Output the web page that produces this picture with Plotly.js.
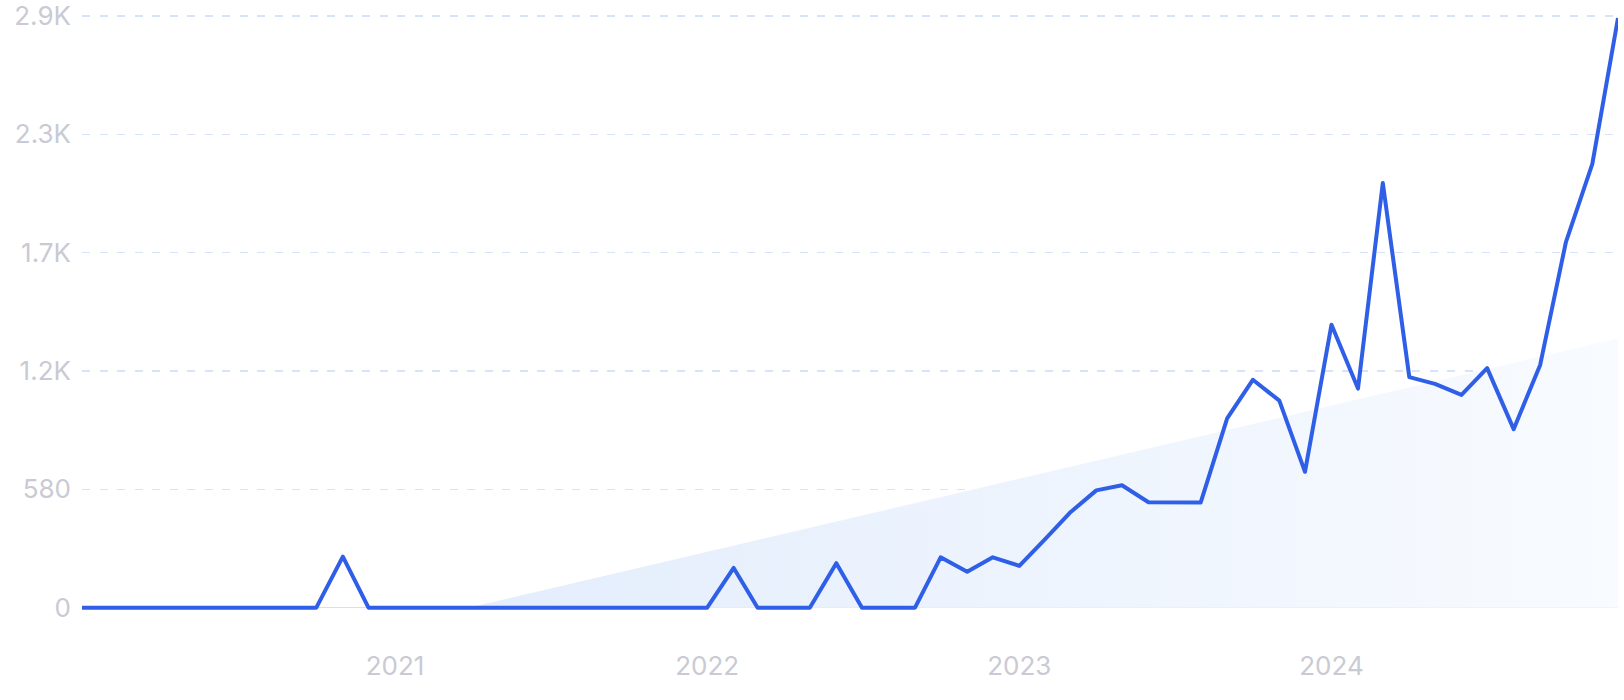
<!DOCTYPE html>
<html>
<head>
<meta charset="utf-8">
<script src="https://cdn.plot.ly/plotly-3.0.1.min.js"></script>
<style>
  html, body { margin: 0; padding: 0; background: #ffffff; }
  #chart { width: 1624px; height: 700px; }
  #chart .scatterlayer path.js-line { stroke-linejoin: round; }
</style>
</head>
<body>
<div id="chart"></div>
<script>
// Monthly dates, Jan 2020 .. Dec 2024
const months = [
  '2020-01-01','2020-02-01','2020-03-01','2020-04-01','2020-05-01','2020-06-01',
  '2020-07-01','2020-08-01','2020-09-01','2020-10-01','2020-11-01','2020-12-01',
  '2021-01-01','2021-02-01','2021-03-01','2021-04-01','2021-05-01','2021-06-01',
  '2021-07-01','2021-08-01','2021-09-01','2021-10-01','2021-11-01','2021-12-01',
  '2022-01-01','2022-02-01','2022-03-01','2022-04-01','2022-05-01','2022-06-01',
  '2022-07-01','2022-08-01','2022-09-01','2022-10-01','2022-11-01','2022-12-01',
  '2023-01-01','2023-02-01','2023-03-01','2023-04-01','2023-05-01','2023-06-01',
  '2023-07-01','2023-08-01','2023-09-01','2023-10-01','2023-11-01','2023-12-01',
  '2024-01-01','2024-02-01','2024-03-01','2024-04-01','2024-05-01','2024-06-01',
  '2024-07-01','2024-08-01','2024-09-01','2024-10-01','2024-11-01','2024-12-01'
];
const searches = [
  0, 0, 0, 0, 0, 0, 0, 0, 0, 0, 250, 0,
  0, 0, 0, 0, 0, 0, 0, 0, 0, 0, 0, 0,
  0, 195, 0, 0, 0, 218, 0, 0, 0, 247, 176, 247,
  205, 340, 465, 575, 600, 517, 517, 515, 928, 1117, 1015, 666,
  1387, 1074, 2081, 1130, 1097, 1043, 1174, 875, 1190, 1790, 2175, 2890
];
// Trend line end points
const trendX = ['2021-03-28', '2024-12-01'];
const trendY = [0, 1320];

const yTickVals = [0, 580, 1160, 1740, 2320, 2900];
const yTickText = ['0', '580', '1.2K', '1.7K', '2.3K', '2.9K'];
const xTickVals = ['2021-01-01', '2022-01-01', '2023-01-01', '2024-01-01'];
const xTickText = ['2021', '2022', '2023', '2024'];

const traces = [
  {
    x: trendX, y: trendY, type: 'scatter', mode: 'lines',
    line: { width: 0, color: 'rgba(0,0,0,0)' },
    fill: 'tozeroy',
    fillgradient: {
      type: 'horizontal',
      colorscale: [[0, '#e3edfc'], [1, '#f8fbff']]
    },
    hoverinfo: 'skip'
  },
  {
    x: months, y: searches, type: 'scatter', mode: 'lines',
    line: { color: '#2f5fe6', width: 4, shape: 'linear' },
    hoverinfo: 'skip'
  }
];

const tickFont = { family: 'Inter, "Noto Sans", sans-serif', size: 26, color: '#c9cad4' };

const layout = {
  width: 1624, height: 700,
  margin: { l: 82, r: 6, t: 10, b: 86, pad: 0 },
  paper_bgcolor: '#ffffff', plot_bgcolor: '#ffffff',
  showlegend: false,
  hovermode: false,
  xaxis: {
    type: 'date',
    range: ['2020-01-01', '2024-12-01'],
    tickvals: xTickVals, ticktext: xTickText,
    showgrid: false, zeroline: false, showline: false,
    ticks: '', tickfont: tickFont,
    ticklabelstandoff: 34
  },
  yaxis: {
    range: [-30.9, 2929.4],
    tickvals: yTickVals, ticktext: yTickText,
    showgrid: true, gridcolor: '#d8e2fb', gridwidth: 1.5, griddash: '8px,9.5px',
    zeroline: true, zerolinecolor: '#d3e0fa', zerolinewidth: 1.5,
    showline: false, ticks: '', tickfont: tickFont,
    ticklabelstandoff: 10
  }
};

Plotly.newPlot('chart', traces, layout, { displayModeBar: false, staticPlot: true });
</script>
</body>
</html>
